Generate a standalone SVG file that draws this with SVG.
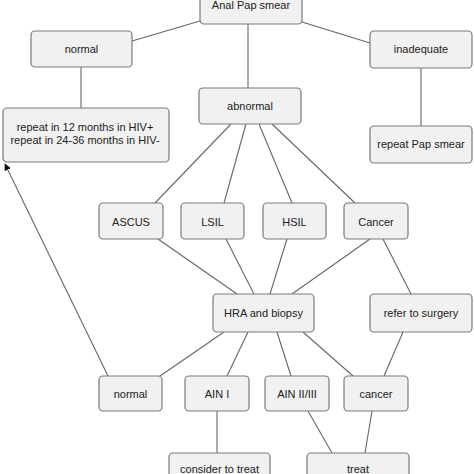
<svg xmlns="http://www.w3.org/2000/svg" width="474" height="474" viewBox="0 0 474 474">
<defs>
<style>
.box{fill:#f1f1f1;stroke:#7a7a7a;stroke-width:1.2}
.t{font-family:"Liberation Sans",Arial,sans-serif;font-size:11px;fill:#222;text-anchor:middle}
.c{stroke:#666;stroke-width:1.1;fill:none}
</style>
<marker id="ah" viewBox="0 0 10 10" refX="9" refY="5" markerWidth="7" markerHeight="7" orient="auto-start-reverse" markerUnits="userSpaceOnUse">
<path d="M0,0 L10,5 L0,10 z" fill="#111"/>
</marker>
</defs>
<rect width="474" height="474" fill="#fff"/>
<g id="connectors">
<line class="c" x1="200" y1="21" x2="132" y2="41"/>
<line class="c" x1="302" y1="22" x2="370" y2="43"/>
<line class="c" x1="248" y1="24" x2="248" y2="88"/>
<line class="c" x1="81" y1="67" x2="81" y2="108"/>
<line class="c" x1="421" y1="68" x2="421" y2="126"/>
<line class="c" x1="231" y1="124" x2="155" y2="203"/>
<line class="c" x1="246" y1="124" x2="224" y2="203"/>
<line class="c" x1="259" y1="124" x2="292" y2="203"/>
<line class="c" x1="272" y1="124" x2="355" y2="203"/>
<line class="c" x1="158" y1="239" x2="237" y2="294"/>
<line class="c" x1="226" y1="239" x2="254" y2="294"/>
<line class="c" x1="287" y1="239" x2="270" y2="294"/>
<line class="c" x1="370" y1="239" x2="292" y2="294"/>
<line class="c" x1="383" y1="239" x2="411" y2="294"/>
<line class="c" x1="224" y1="332" x2="160" y2="376"/>
<line class="c" x1="248" y1="332" x2="227" y2="376"/>
<line class="c" x1="277" y1="332" x2="291" y2="376"/>
<line class="c" x1="303" y1="332" x2="353" y2="376"/>
<line class="c" x1="403" y1="332" x2="384" y2="376"/>
<line class="c" x1="217" y1="411" x2="217" y2="453"/>
<line class="c" x1="308" y1="411" x2="332" y2="453"/>
<line class="c" x1="372" y1="411" x2="365" y2="453"/>
<line class="c" x1="108" y1="376" x2="5" y2="164" marker-end="url(#ah)"/>
</g>
<g id="n-anal"><rect class="box" x="200" y="-10" width="102" height="34" rx="4"/><text class="t" x="251" y="8.5">Anal Pap smear</text></g>
<g id="n-normal"><rect class="box" x="31" y="31" width="101" height="36" rx="4"/><text class="t" x="81.5" y="53">normal</text></g>
<g id="n-inadequate"><rect class="box" x="370" y="31" width="102" height="37" rx="4"/><text class="t" x="421" y="53">inadequate</text></g>
<g id="n-abnormal"><rect class="box" x="199" y="88" width="102" height="36" rx="4"/><text class="t" x="250" y="110">abnormal</text></g>
<g id="n-repeat"><rect class="box" x="3" y="108" width="166" height="54" rx="4"/><text class="t" x="85" y="131">repeat in 12 months in HIV+</text><text class="t" x="85" y="144">repeat in 24-36 months in HIV-</text></g>
<g id="n-repeatpap"><rect class="box" x="370" y="126" width="102" height="37" rx="4"/><text class="t" x="421" y="148">repeat Pap smear</text></g>
<g id="n-ascus"><rect class="box" x="99" y="203" width="64" height="36" rx="4"/><text class="t" x="131" y="225.5">ASCUS</text></g>
<g id="n-lsil"><rect class="box" x="181" y="203" width="63" height="36" rx="4"/><text class="t" x="212.5" y="225.5">LSIL</text></g>
<g id="n-hsil"><rect class="box" x="263" y="203" width="63" height="36" rx="4"/><text class="t" x="294.5" y="225.5">HSIL</text></g>
<g id="n-cancer1"><rect class="box" x="344" y="203" width="64" height="36" rx="4"/><text class="t" x="376" y="225.5">Cancer</text></g>
<g id="n-hra"><rect class="box" x="213" y="294" width="101" height="38" rx="4"/><text class="t" x="263.5" y="317">HRA and biopsy</text></g>
<g id="n-refer"><rect class="box" x="370" y="294" width="102" height="38" rx="4"/><text class="t" x="421" y="317">refer to surgery</text></g>
<g id="n-normal2"><rect class="box" x="99" y="376" width="63" height="35" rx="4"/><text class="t" x="130.5" y="397.5">normal</text></g>
<g id="n-ain1"><rect class="box" x="185" y="376" width="64" height="35" rx="4"/><text class="t" x="217" y="397.5">AIN I</text></g>
<g id="n-ain23"><rect class="box" x="265" y="376" width="64" height="35" rx="4"/><text class="t" x="297" y="397.5">AIN II/III</text></g>
<g id="n-cancer2"><rect class="box" x="344" y="376" width="64" height="35" rx="4"/><text class="t" x="376" y="397.5">cancer</text></g>
<g id="n-consider"><rect class="box" x="169" y="453" width="101" height="36" rx="4"/><text class="t" x="219.5" y="472.5">consider to treat</text></g>
<g id="n-treat"><rect class="box" x="307" y="453" width="102" height="36" rx="4"/><text class="t" x="358" y="472.5">treat</text></g>
</svg>
